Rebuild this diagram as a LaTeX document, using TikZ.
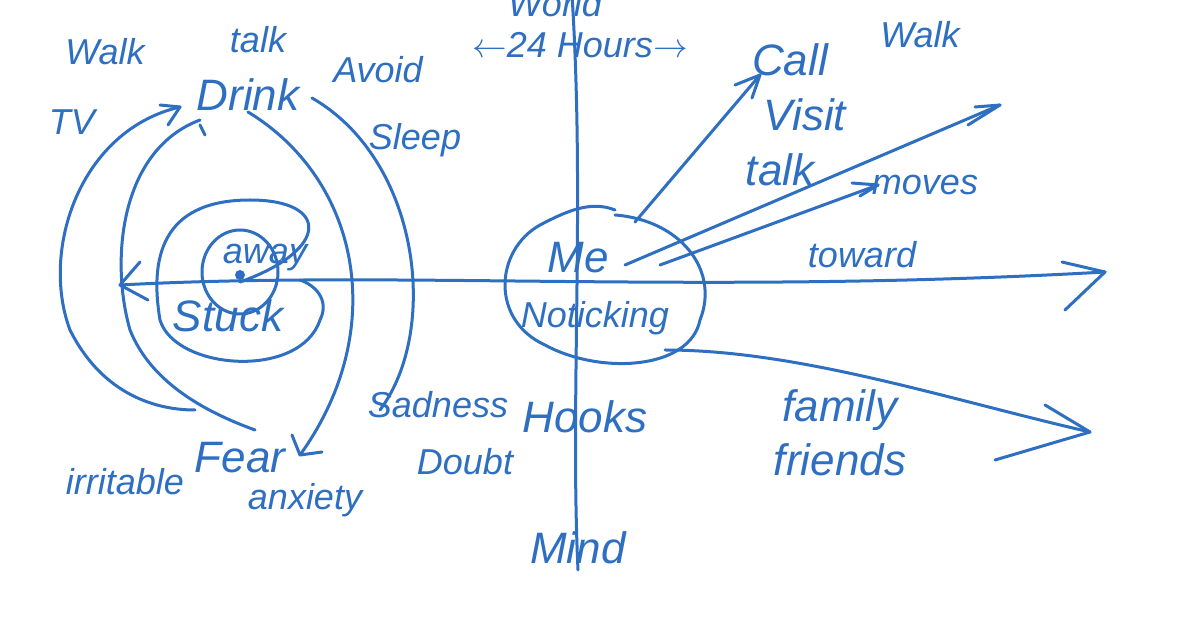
\documentclass[tikz,border=0pt]{standalone}
\usepackage{fontspec}
\setmainfont{Liberation Sans}
\begin{document}
\begin{tikzpicture}[x=0.5pt,y=-0.5pt,
  ink/.style={draw=pen,line width=1.5pt,line cap=round,line join=round},
  lbl/.style={text=pen,font=\fontsize{18}{18}\selectfont\itshape,inner sep=0pt},
  big/.style={text=pen,font=\fontsize{22}{22}\selectfont\itshape,inner sep=0pt}]
\definecolor{pen}{HTML}{2E6FC2}
\useasboundingbox[fill=white] (0,0) rectangle (1200,630);
% axes
\coordinate (vt) at (572,-5); \coordinate (vb) at (578,570);
\draw[ink] (vt) .. controls (585,200) and (570,400) .. (vb);
\coordinate (hl) at (120,285); \coordinate (hr) at (1105,272);
\draw[ink] (hl) .. controls (400,270) and (700,295) .. (hr);
\draw[ink] (1062,262) -- (hr) -- (1065,310);
\draw[ink] (140,262) -- (hl) -- (148,300);
% rings
\coordinate (c) at (240,275);
\fill[pen] (c) circle (5);
\draw[ink] (240,272) ellipse (38 and 42);
\draw[ink] (240,282) .. controls (330,250) and (330,200) .. (250,200) .. controls (160,200) and (150,260) .. (160,320) .. controls (175,370) and (300,380) .. (320,320) .. controls (330,300) and (315,285) .. (300,280);
\draw[ink] (200,120) .. controls (120,150) and (110,260) .. (130,330) .. controls (150,380) and (200,410) .. (255,430);
\draw[ink] (180,107) .. controls (80,130) and (40,250) .. (70,330) .. controls (100,390) and (150,410) .. (195,410);
\draw[ink] (160,105) -- (180,107) -- (168,125);
\draw[ink] (248,112) .. controls (360,180) and (390,330) .. (300,455);
\draw[ink] (292,435) -- (300,455) -- (322,452);
\draw[ink] (312,98) .. controls (420,160) and (440,330) .. (380,410);
\draw[ink] (200,125) -- (205,135);
% blob
\draw[ink] (615,215) .. controls (680,220) and (720,270) .. (700,320) .. controls (690,370) and (600,375) .. (545,345) .. controls (490,320) and (495,250) .. (540,225) .. controls (565,212) and (590,200) .. (615,210);
% arrows from Me
\coordinate (me) at (625,265);
\coordinate (a1) at (760,75); \coordinate (a2) at (1000,105); \coordinate (a3) at (878,185);
\draw[ink] (635,222) -- (a1); \draw[ink] (735,85) -- (a1) -- (752,98);
\draw[ink] (me) -- (a2); \draw[ink] (975,107) -- (a2) -- (968,125);
\draw[ink] (660,265) -- (a3); \draw[ink] (852,183) -- (a3) -- (860,196);
\coordinate (fs) at (665,350); \coordinate (fe) at (1090,432);
\draw[ink] (fs) .. controls (800,350) and (950,400) .. (fe);
\draw[ink] (1045,405) -- (fe) -- (995,460);
% labels
\node[lbl] (w1) at (105,52) {Walk};
\node[lbl] (w2) at (258,40) {talk};
\node[lbl] (w3) at (72,122) {TV};
\node[big] (w4) at (248,95) {Drink};
\node[lbl] (w5) at (378,70) {Avoid};
\node[lbl] (w6) at (415,140) {Sleep};
\node[lbl] (w7) at (265,258) {away};
\node[big] (w8) at (228,316) {Stuck};
\node[lbl] (w9) at (125,482) {irritable};
\node[big] (w10) at (240,458) {Fear};
\node[lbl] (w11) at (305,500) {anxiety};
\node[lbl] (w12) at (465,462) {Doubt};
\node[lbl] (w13) at (438,405) {Sadness};
\node[lbl] (w14) at (555,4) {World};
\node[lbl] (w15) at (580,45) {$\leftarrow$24 Hours$\rightarrow$};
\node[big] (w16) at (790,60) {Call};
\node[lbl] (w17) at (920,35) {Walk};
\node[big] (w18) at (805,115) {Visit};
\node[big] (w19) at (780,170) {talk};
\node[lbl] (w20) at (925,185) {moves};
\node[lbl] (w21) at (862,255) {toward};
\node[big] (w22) at (578,258) {Me};
\node[lbl] (w23) at (595,318) {Noticking};
\node[big] (w24) at (585,417) {Hooks};
\node[big] (w25) at (578,548) {Mind};
\node[big] (w26) at (840,410) {family};
\node[big] (w27) at (840,460) {friends};
\end{tikzpicture}
\end{document}
